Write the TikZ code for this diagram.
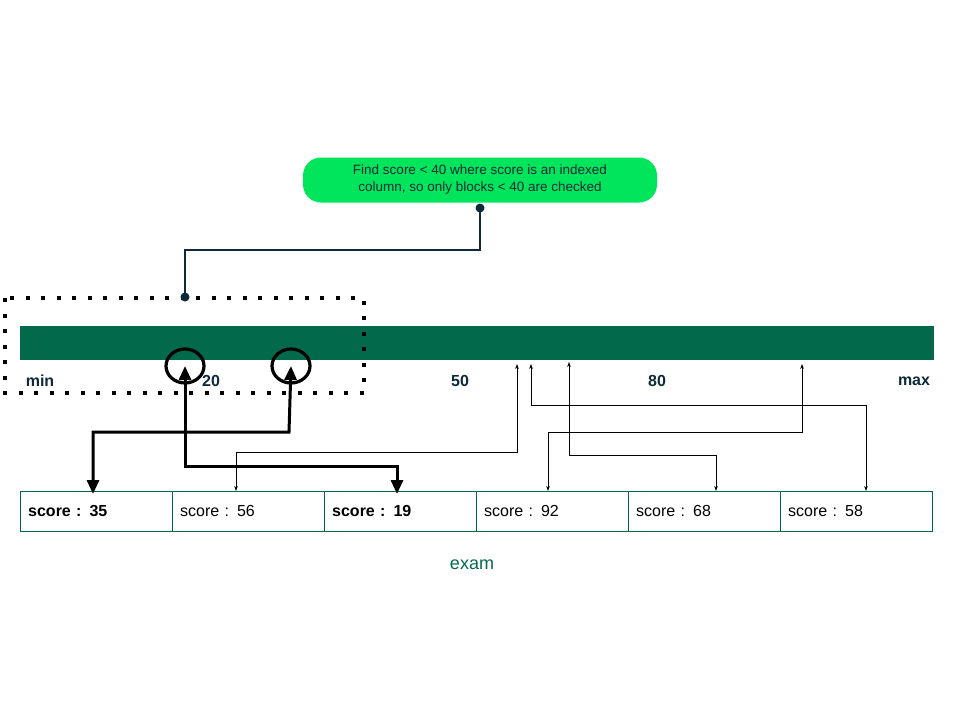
\documentclass[tikz,border=0pt]{standalone}
\usepackage{fontspec}
\setmainfont{Liberation Sans}
\setsansfont{Liberation Sans}
\usetikzlibrary{positioning,arrows.meta,shapes.geometric}
\definecolor{barGreen}{HTML}{02694B}
\definecolor{noteGreen}{HTML}{00E55B}
\definecolor{inkBlue}{HTML}{0E2A3A}
\begin{document}
\begin{tikzpicture}[
    x=1pt, y=-1pt,
    every node/.style={font=\sffamily},
    cell/.style={draw=barGreen, minimum width=152pt, minimum height=40pt, text width=136pt, inner sep=0pt, align=left, font=\fontsize{16}{19}\selectfont},
    tick/.style={text=inkBlue, font=\fontsize{16}{19}\selectfont\bfseries},
    thin link/.style={black, line width=0.8pt, {Stealth[length=5pt]}-{Stealth[length=5pt]}},
    thick link/.style={black, line width=3pt, {Triangle[length=14pt,width=12pt]}-{Triangle[length=14pt,width=12pt]}},
    ring/.style={draw, line width=3.2pt, ellipse, minimum width=38pt, minimum height=34pt, inner sep=0pt}
]
\useasboundingbox (0,0) rectangle (960,720);

% note
\node[fill=noteGreen, rounded corners=18pt, minimum width=354pt, minimum height=45pt, align=center, text=inkBlue, font=\fontsize{13.5}{17}\selectfont] (note) at (480,180)
  {Find score < 40 where score is an indexed\\column, so only blocks < 40 are checked};

% index bar
\fill[barGreen] (20,326) rectangle (934,360);
\draw[line width=4pt, dash pattern=on 4pt off 11.5pt] (5,298) rectangle (364,393);
\node[tick] (tmin) at (40,381) {min};
\node[tick] (t20) at (211,381) {20};
\node[tick] (t50) at (460,381) {50};
\node[tick] (t80) at (657,381) {80};
\node[tick] (tmax) at (914,381) {max};
\node[ring] (ringA) at (185,366) {};
\node[ring] (ringB) at (291,366) {};

% note link
\coordinate (noteDot) at (480,208);
\coordinate (boxDot) at (185,297);
\draw[inkBlue, line width=2.4pt] (noteDot) |- (185,250) -- (boxDot);
\fill[inkBlue] (noteDot) circle (4.5pt) (boxDot) circle (4.5pt);

% table cells
\foreach \i/\txt in {0/\textbf{score : 35},1/score : 56,2/\textbf{score : 19},3/score : 92,4/score : 68,5/score : 58}
  \node[cell, anchor=west] (c\i) at (20+152*\i,511) {\txt};
\node[text=barGreen, font=\fontsize{18}{21}\selectfont] (title) at (472,565) {exam};

% block pointers
\coordinate (p56) at (517,364);
\coordinate (p92) at (802,364);
\coordinate (p68) at (569,362);
\coordinate (p58) at (531,364);
\draw[thin link] (236,491) |- (517,452) -- (p56);
\draw[thin link] (548,491) |- (802,432) -- (p92);
\draw[thin link] (716,491) |- (569,455) -- (p68);
\draw[thin link] (866,491) |- (531,405) -- (p58);
\draw[thick link] (93,494) |- (289,432) -- (ringB.center);
\draw[thick link] (ringA.center) |- (397,466) -- (397,494);
\end{tikzpicture}
\end{document}
